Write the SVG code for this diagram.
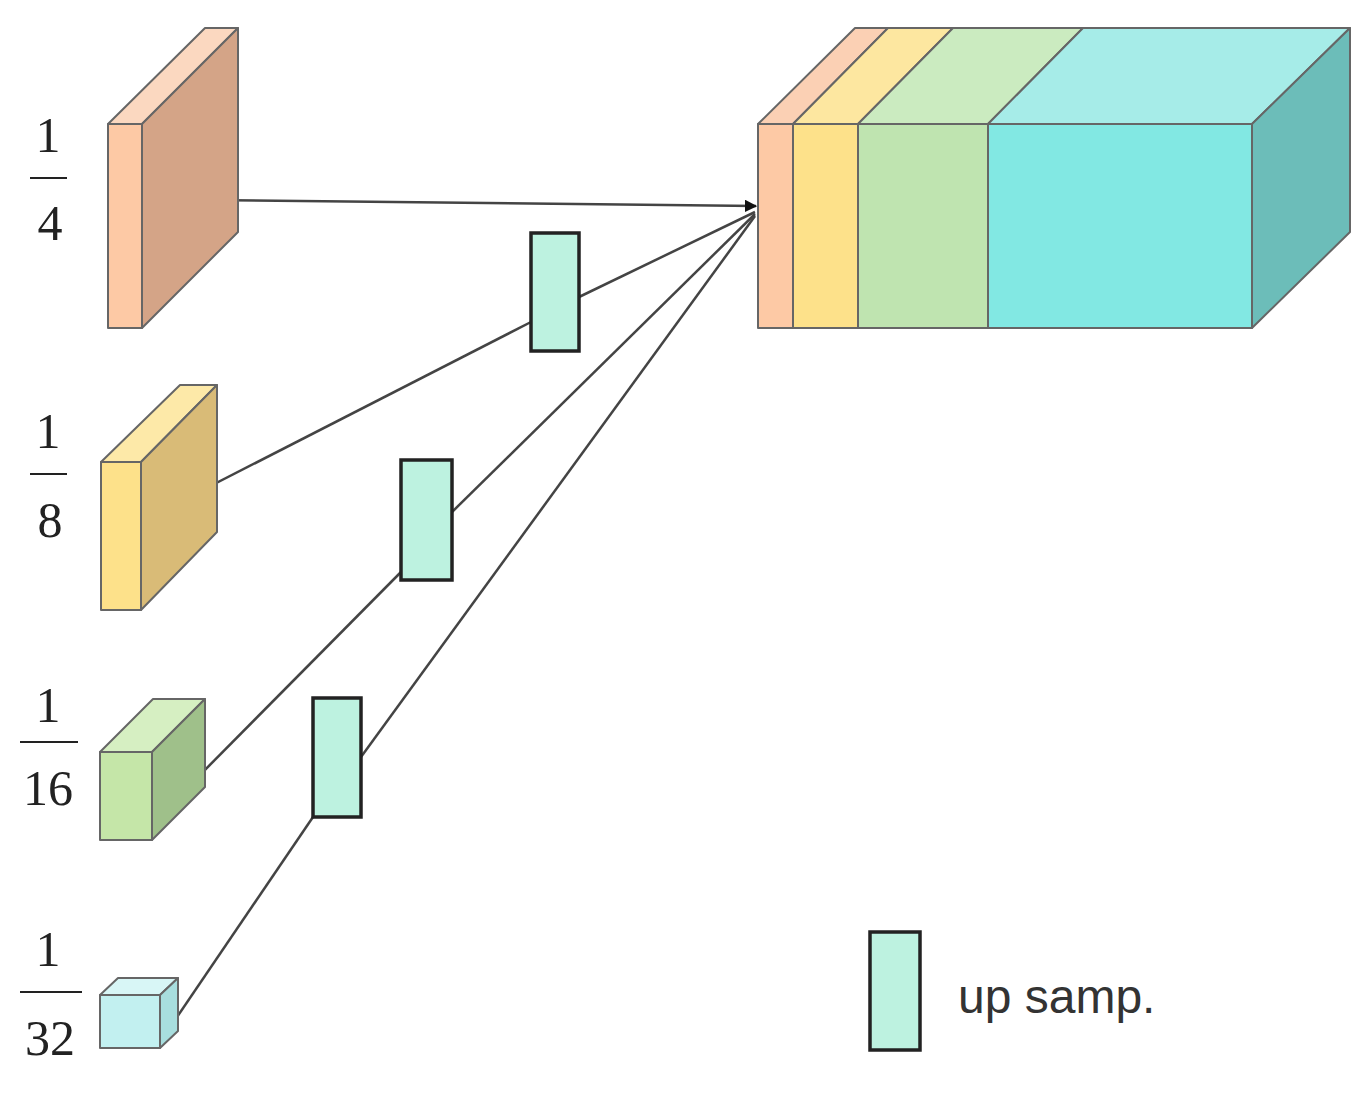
<svg xmlns="http://www.w3.org/2000/svg" width="1368" height="1095" viewBox="0 0 1368 1095">
<defs>
<style>
.e{stroke:#666;stroke-width:2;stroke-linejoin:round}
.u{fill:#bdf2e0;stroke:#222;stroke-width:3.5}
.fr{font-family:"Liberation Serif",serif;font-size:50px;fill:#222;text-anchor:middle}
.bar{stroke:#222;stroke-width:2}
.c{stroke:#444;stroke-width:2.5;fill:none}
</style>
<marker id="a" viewBox="0 0 10 10" refX="9" refY="5" markerWidth="5" markerHeight="5" orient="auto"><path d="M0,0L10,5L0,10z" fill="#111"/></marker>
</defs>
<rect width="1368" height="1095" fill="#fff"/>
<g id="labels">
<text class="fr" x="48" y="152">1</text><line class="bar" x1="30" y1="178" x2="67" y2="178"/><text class="fr" x="50" y="240">4</text>
<text class="fr" x="48" y="448">1</text><line class="bar" x1="30" y1="474" x2="67" y2="474"/><text class="fr" x="50" y="537">8</text>
<text class="fr" x="48" y="722">1</text><line class="bar" x1="20" y1="742" x2="78" y2="742"/><text class="fr" x="48" y="805">16</text>
<text class="fr" x="48" y="966">1</text><line class="bar" x1="20" y1="992" x2="82" y2="992"/><text class="fr" x="50" y="1055">32</text>
</g>
<g id="connectors">
<line class="c" x1="205" y1="200" x2="756" y2="206" marker-end="url(#a)"/>
<polyline class="c" points="187,498 531,322"/>
<polyline class="c" points="579,297 755,212"/>
<polyline class="c" points="190,785 401,572"/>
<polyline class="c" points="452,512 755,214"/>
<polyline class="c" points="175,1020 313,817"/>
<polyline class="c" points="361,757 755,216"/>
</g>
<g id="block4">
<polygon class="e" fill="#fbd8c0" points="108,124 205,28 238,28 142,124"/>
<polygon class="e" fill="#d4a487" points="142,124 238,28 238,232 142,328"/>
<rect class="e" fill="#fdc9a5" x="108" y="124" width="34" height="204"/>
</g>
<g id="block8">
<polygon class="e" fill="#fde9a8" points="101,462 180,385 217,385 141,462"/>
<polygon class="e" fill="#d9bb77" points="141,462 217,385 217,532 141,610"/>
<rect class="e" fill="#fde18a" x="101" y="462" width="40" height="148"/>
</g>
<g id="block16">
<polygon class="e" fill="#d6efc2" points="100,752 153,699 205,699 152,752"/>
<polygon class="e" fill="#9fc08a" points="152,752 205,699 205,787 152,840"/>
<rect class="e" fill="#c5e6a8" x="100" y="752" width="52" height="88"/>
</g>
<g id="block32">
<polygon class="e" fill="#d8f6f6" points="100,995 118,978 178,978 160,995"/>
<polygon class="e" fill="#a8dede" points="160,995 178,978 178,1031 160,1048"/>
<rect class="e" fill="#c2f0f0" x="100" y="995" width="60" height="53"/>
</g>
<g id="up1"><rect class="u" x="531" y="233" width="48" height="118"/></g>
<g id="up2"><rect class="u" x="401" y="460" width="51" height="120"/></g>
<g id="up3"><rect class="u" x="313" y="698" width="48" height="119"/></g>
<g id="concat">
<polygon class="e" fill="#fbd0b4" points="758,124 855,28 888,28 793,124"/>
<polygon class="e" fill="#fde7a0" points="793,124 888,28 953,28 858,124"/>
<polygon class="e" fill="#cbebc0" points="858,124 953,28 1083,28 988,124"/>
<polygon class="e" fill="#a6ece8" points="988,124 1083,28 1350,28 1252,124"/>
<polygon class="e" fill="#6cbdb9" points="1252,124 1350,28 1350,232 1252,328"/>
<rect class="e" fill="#fdc9a5" x="758" y="124" width="35" height="204"/>
<rect class="e" fill="#fde18a" x="793" y="124" width="65" height="204"/>
<rect class="e" fill="#bfe4b0" x="858" y="124" width="130" height="204"/>
<rect class="e" fill="#82e8e3" x="988" y="124" width="264" height="204"/>
</g>
<g id="legend">
<rect class="u" x="870" y="932" width="50" height="118"/>
<text x="958" y="1013" font-family="Liberation Sans,Arial,sans-serif" font-size="48" fill="#333">up samp.</text>
</g>
</svg>
